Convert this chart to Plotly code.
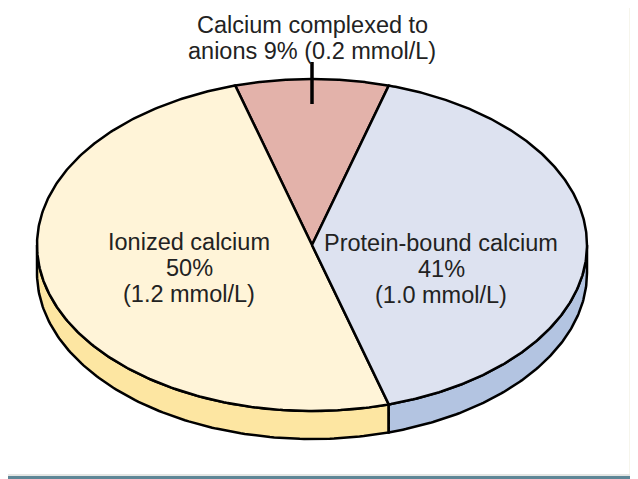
import numpy as np
import plotly.graph_objects as go

# ---- data ----
labels = ["Calcium complexed to anions", "Ionized calcium", "Protein-bound calcium"]
percents = [9, 50, 41]
mmol = [0.2, 1.2, 1.0]
top_colors = ["#E3B2AA", "#FFF4D8", "#DDE2F0"]
side_colors = ["#D49A90", "#FDE6A2", "#B3C4E1"]

# ---- geometry (pixel-like axis units) ----
W, H = 638, 479
OFF = 8  # page body margin
cx, cy, rx, ry, depth = 312, 245, 275, 166, 28
start = 90 - percents[0] / 100 * 360 / 2  # first slice centred at top


def pt(t_deg, dy=0):
    t = np.radians(t_deg)
    return cx + rx * np.cos(t), cy - ry * np.sin(t) + dy


fig = go.Figure()

ranges = []
a = start
for p in percents:
    b = a + p / 100 * 360
    ranges.append((a, b))
    a = b

# side faces (front half: 180..360 deg)
for (a0, a1), col in zip(ranges, side_colors):
    for shift in (-360, 0, 360):
        lo = max(a0 + shift, 180)
        hi = min(a1 + shift, 360)
        if hi > lo:
            ts = np.linspace(lo, hi, 120)
            xs_t, ys_t = pt(ts)
            xs_b, ys_b = pt(ts[::-1], depth)
            xs = np.concatenate([xs_t, xs_b, xs_t[:1]])
            ys = np.concatenate([ys_t, ys_b, ys_t[:1]])
            fig.add_trace(go.Scatter(x=xs, y=ys, mode="lines", fill="toself",
                                     fillcolor=col, line=dict(color="black", width=2.5),
                                     hoverinfo="skip", showlegend=False))

# top faces
for (a0, a1), col in zip(ranges, top_colors):
    ts = np.linspace(a0, a1, 300)
    xs, ys = pt(ts)
    xs = np.concatenate([[cx], xs, [cx]])
    ys = np.concatenate([[cy], ys, [cy]])
    fig.add_trace(go.Scatter(x=xs, y=ys, mode="lines", fill="toself",
                             fillcolor=col, line=dict(color="black", width=2.5),
                             hoverinfo="skip", showlegend=False))

# leader line for the small slice
fig.add_trace(go.Scatter(x=[cx, cx], y=[62, 104], mode="lines",
                         line=dict(color="black", width=3.5),
                         hoverinfo="skip", showlegend=False))

font = dict(family="Liberation Sans, Arial, sans-serif", size=23.5, color="#222222")
blocks = [
    (312, [25, 51], ["Calcium complexed to",
                     f"anions {percents[0]}% ({mmol[0]} mmol/L)"]),
    (189, [242, 268, 294], ["Ionized calcium", f"{percents[1]}%",
                            f"({mmol[1]} mmol/L)"]),
    (441, [243, 269, 295], ["Protein-bound calcium", f"{percents[2]}%",
                            f"({mmol[2]} mmol/L)"]),
]
for x, ys, lines in blocks:
    for y, t in zip(ys, lines):
        fig.add_annotation(x=x, y=y, text=t, showarrow=False, font=font,
                           xanchor="center", yanchor="middle", align="center")

# frame decoration
fig.add_shape(type="rect", x0=629, x1=634, y0=0, y1=476, fillcolor="#F6F5EC",
              line_width=0, layer="below")
fig.add_shape(type="rect", x0=634, x1=639, y0=0, y1=476, fillcolor="#C9CCCC",
              line_width=0, layer="below")
fig.add_shape(type="rect", x0=0, x1=639, y0=474, y1=476, fillcolor="#E4E6E4",
              line_width=0, layer="below")
fig.add_shape(type="rect", x0=0, x1=639, y0=476, y1=480, fillcolor="#5E8696",
              line_width=0, layer="below")

fig.update_layout(
    width=W - OFF, height=H - OFF, margin=dict(l=0, r=0, t=0, b=0),
    paper_bgcolor="white", plot_bgcolor="white",
    xaxis=dict(range=[OFF, W], visible=False, fixedrange=True),
    yaxis=dict(range=[H, OFF], visible=False, fixedrange=True),
)
fig.write_html("out.html", config={"displayModeBar": False})
